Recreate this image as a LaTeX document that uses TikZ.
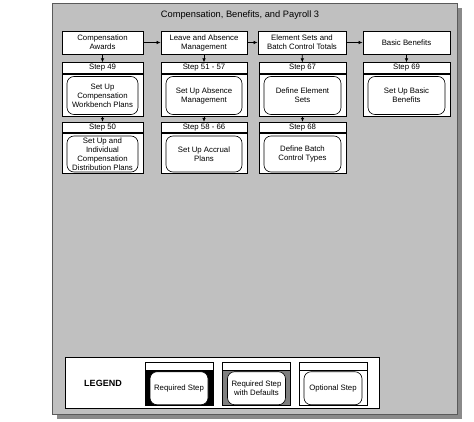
\documentclass[tikz,border=0pt]{standalone}
\usepackage{fontspec}
\setmainfont{Liberation Sans}
\usetikzlibrary{arrows.meta}
\definecolor{bggray}{HTML}{C0C0C0}
\definecolor{shgray}{HTML}{8A8A8A}
\definecolor{frgray}{HTML}{5A5A5A}
\definecolor{defgray}{HTML}{7F7F7F}
\tikzset{
  txt/.style={font=\fontsize{7.8}{9}\selectfont, align=center},
  topbox/.style={txt, draw, fill=white, minimum height=23pt, inner sep=0pt, line width=0.75pt},
  hdr/.style={txt, draw, fill=white, minimum height=10.5pt, inner sep=0pt, line width=0.75pt},
  bodybox/.style={draw, fill=white, inner sep=0pt, line width=0.75pt},
  innerbox/.style={txt, draw, fill=white, rounded corners=7pt, inner sep=0pt, line width=0.6pt},
  arr/.style={-{Latex[length=4pt,width=3.6pt]}, line width=0.7pt},
}
\begin{document}
\begin{tikzpicture}[x=1pt,y=-1pt]
\useasboundingbox (0,0) rectangle (474,422);
% frame with shadow
\fill[shgray] (57,8) rectangle (462,419);
\draw[frgray, fill=bggray, line width=0.9pt] (52,3) rectangle (457,414);
\node[font=\fontsize{9.3}{10}\selectfont] (title) at (240,15.5) {Compensation, Benefits, and Payroll 3};

% top boxes
\node[topbox, minimum width=81pt] (t1) at (102.5,42.5) {Compensation\\Awards};
\node[topbox, minimum width=86pt] (t2) at (204,42.5) {Leave and Absence\\Management};
\node[topbox, minimum width=88pt] (t3) at (302,42.5) {Element Sets and\\Batch Control Totals};
\node[topbox, minimum width=87pt] (t4) at (406.5,42.5) {Basic Benefits};

% row 1 steps
\node[hdr, minimum width=81pt] (h1) at (102.5,68) {Step 49};
\node[bodybox, minimum width=81pt, minimum height=42pt, anchor=north] (b1) at (h1.south) {};
\node[innerbox, minimum width=71pt, minimum height=38pt] (i1) at ([yshift=-0.5pt]b1.center) {Set Up\\Compensation\\Workbench Plans};

\node[hdr, minimum width=86pt] (h2) at (204,68) {Step 51 - 57};
\node[bodybox, minimum width=86pt, minimum height=42pt, anchor=north] (b2) at (h2.south) {};
\node[innerbox, minimum width=76pt, minimum height=38pt] (i2) at ([yshift=-0.5pt]b2.center) {Set Up Absence\\Management};

\node[hdr, minimum width=87pt] (h3) at (302.5,68) {Step 67};
\node[bodybox, minimum width=87pt, minimum height=42pt, anchor=north] (b3) at (h3.south) {};
\node[innerbox, minimum width=77pt, minimum height=38pt] (i3) at ([yshift=-0.5pt]b3.center) {Define Element\\Sets};

\node[hdr, minimum width=87pt] (h4) at (406.5,68) {Step 69};
\node[bodybox, minimum width=87pt, minimum height=42pt, anchor=north] (b4) at (h4.south) {};
\node[innerbox, minimum width=77pt, minimum height=38pt] (i4) at ([yshift=-0.5pt]b4.center) {Set Up Basic\\Benefits};

% row 2 steps
\node[hdr, minimum width=81pt] (h5) at (102.5,127.5) {Step 50};
\node[bodybox, minimum width=81pt, minimum height=40pt, anchor=north] (b5) at (h5.south) {};
\node[innerbox, minimum width=71pt, minimum height=36pt] (i5) at ([yshift=-0.5pt]b5.center) {Set Up and\\Individual\\Compensation\\Distribution Plans};

\node[hdr, minimum width=86pt] (h6) at (204,127.5) {Step 58 - 66};
\node[bodybox, minimum width=86pt, minimum height=40pt, anchor=north] (b6) at (h6.south) {};
\node[innerbox, minimum width=76pt, minimum height=36pt] (i6) at ([yshift=-0.5pt]b6.center) {Set Up Accrual\\Plans};

\node[hdr, minimum width=87pt] (h7) at (302.5,127.5) {Step 68};
\node[bodybox, minimum width=87pt, minimum height=40pt, anchor=north] (b7) at (h7.south) {};
\node[innerbox, minimum width=77pt, minimum height=36pt] (i7) at ([yshift=-0.5pt]b7.center) {Define Batch\\Control Types};

% connectors
\draw[arr] (t1) -- (t2);
\draw[arr] (t2) -- (t3);
\draw[arr] (t3) -- (t4);
\draw[arr] (t1) -- (h1);
\draw[arr] (t2) -- (h2);
\draw[arr] (t3) -- (h3);
\draw[arr] (t4) -- (h4);
\draw[arr] (b1) -- (h5);
\draw[arr] (b2) -- (h6);
\draw[arr] (b3) -- (h7);

% legend
\node[draw, fill=white, line width=0.75pt, minimum width=314pt, minimum height=51pt, inner sep=0pt] (leg) at (222,382.5) {};
\node[font=\bfseries\fontsize{9}{10}\selectfont] (legt) at (103,383) {LEGEND};

\node[hdr, minimum width=68pt, minimum height=8pt] (lh1) at (179,366) {};
\node[bodybox, fill=black, minimum width=68pt, minimum height=35pt, anchor=north] (lb1) at (lh1.south) {};
\node[innerbox, minimum width=58pt, minimum height=33pt] (li1) at (lb1.center) {Required Step};

\node[hdr, minimum width=68pt, minimum height=8pt] (lh2) at (256.5,366) {};
\node[bodybox, fill=defgray, minimum width=68pt, minimum height=35pt, anchor=north] (lb2) at (lh2.south) {};
\node[innerbox, minimum width=58pt, minimum height=33pt] (li2) at (lb2.center) {Required Step\\with Defaults};

\node[hdr, minimum width=68pt, minimum height=8pt] (lh3) at (333,366) {};
\node[bodybox, minimum width=68pt, minimum height=35pt, anchor=north] (lb3) at (lh3.south) {};
\node[innerbox, minimum width=58pt, minimum height=33pt] (li3) at (lb3.center) {Optional Step};
\end{tikzpicture}
\end{document}
